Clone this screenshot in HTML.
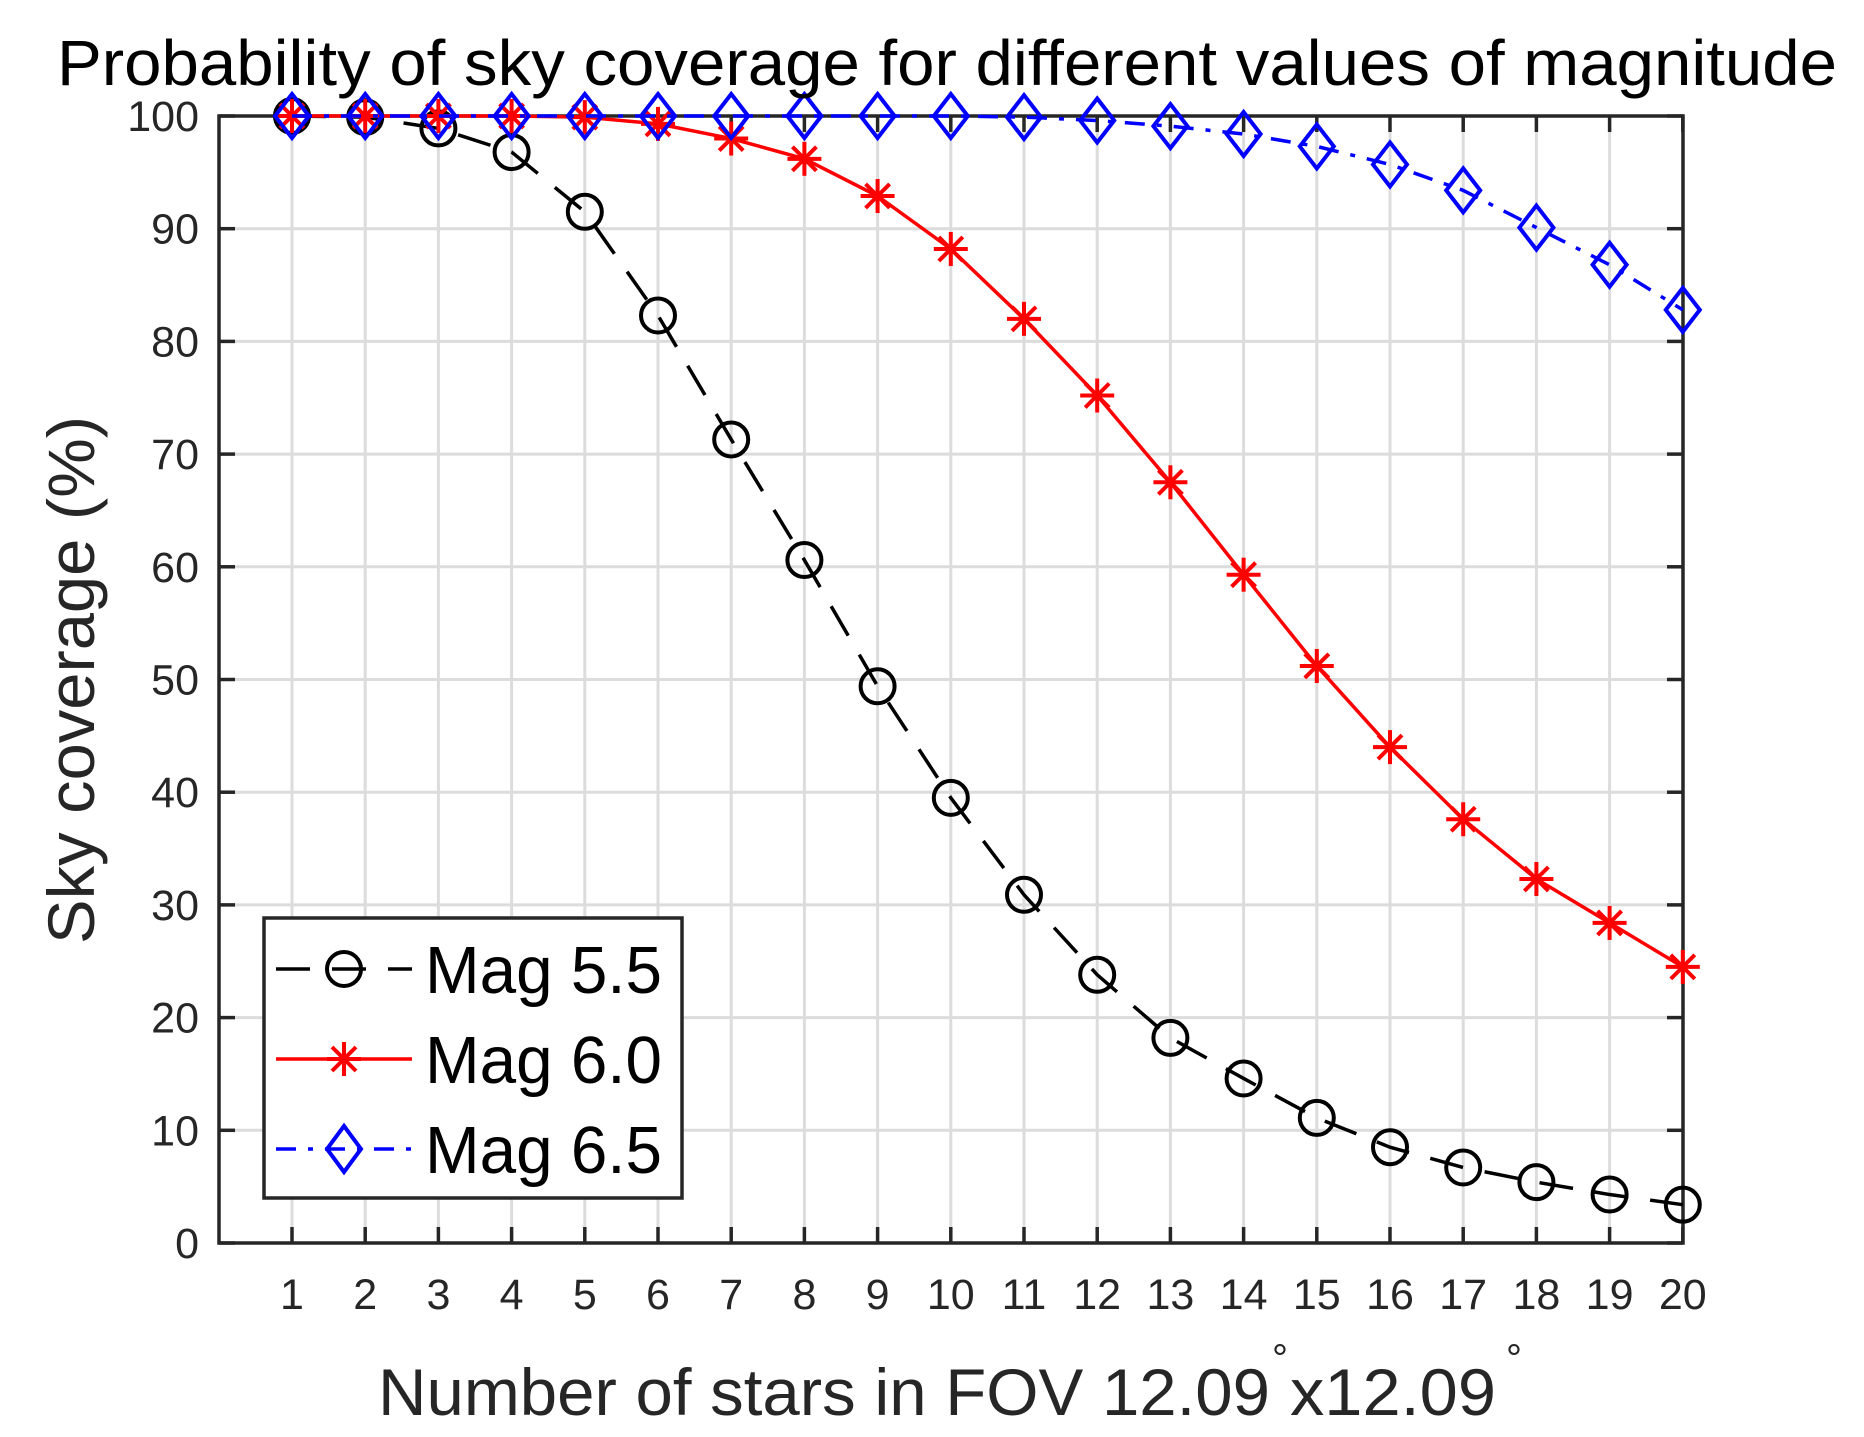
<!DOCTYPE html>
<html><head><meta charset="utf-8"><style>html,body{margin:0;padding:0;background:#fff}svg{display:block}</style></head>
<body>
<svg xmlns="http://www.w3.org/2000/svg" width="1864" height="1437" viewBox="0 0 1864 1437" font-family="Liberation Sans, Arial, sans-serif">
<rect width="1864" height="1437" fill="#fff"/>
<g id="grid" stroke="#dcdcdc" stroke-width="3"></g>
<g id="ticks" stroke="#262626" stroke-width="3.5"></g>
<rect x="219" y="116" width="1464" height="1127" fill="none" stroke="#262626" stroke-width="3.5"/>
<g id="labels" fill="#262626" font-size="43"></g>
<g id="series"></g>
<text x="57" y="85" font-size="64" fill="#000" textLength="1780" lengthAdjust="spacingAndGlyphs">Probability of sky coverage for different values of magnitude</text>
<text x="378" y="1415" font-size="66" fill="#262626" textLength="892" lengthAdjust="spacingAndGlyphs">Number of stars in FOV 12.09</text>
<text x="1290" y="1415" font-size="66" fill="#262626" textLength="206" lengthAdjust="spacingAndGlyphs">x12.09</text>
<text x="1272" y="1372" font-size="40" fill="#262626">°</text>
<text x="1506" y="1372" font-size="40" fill="#262626">°</text>
<text transform="translate(94,944) rotate(-90)" font-size="66" fill="#262626" textLength="528" lengthAdjust="spacingAndGlyphs">Sky coverage (%)</text>
<g>
<rect x="264" y="918" width="418" height="280" fill="#fff" stroke="#262626" stroke-width="3.5"/>
<line x1="276" y1="969" x2="412" y2="969" stroke="#000" stroke-width="3.5" stroke-dasharray="34,22"/>
<circle cx="344" cy="969" r="17" fill="none" stroke="#000" stroke-width="4"/>
<line x1="276" y1="1059" x2="412" y2="1059" stroke="#f00" stroke-width="3.5"/>
<g stroke="#f00" stroke-width="4"><line x1="327" y1="1059" x2="361" y2="1059"/><line x1="344" y1="1042" x2="344" y2="1076"/><line x1="332" y1="1047" x2="356" y2="1071"/><line x1="332" y1="1071" x2="356" y2="1047"/></g>
<line x1="276" y1="1149" x2="412" y2="1149" stroke="#00f" stroke-width="3.5" stroke-dasharray="20,12,5,12"/>
<polygon points="344,1126 361,1149 344,1172 327,1149" fill="none" stroke="#00f" stroke-width="4"/>
<text x="425" y="993" font-size="67" fill="#000" textLength="237" lengthAdjust="spacingAndGlyphs">Mag 5.5</text>
<text x="425" y="1083" font-size="67" fill="#000" textLength="237" lengthAdjust="spacingAndGlyphs">Mag 6.0</text>
<text x="425" y="1173" font-size="67" fill="#000" textLength="237" lengthAdjust="spacingAndGlyphs">Mag 6.5</text>
</g>
<script>
(function(){
var NS="http://www.w3.org/2000/svg";
function X(i){return 292+(i-1)*73.2;}
function Y(v){return 116+(100-v)*11.27;}
function el(p,n,a){var e=document.createElementNS(NS,n);for(var k in a)e.setAttribute(k,a[k]);p.appendChild(e);return e;}
var g=document.getElementById('grid'),t=document.getElementById('ticks'),l=document.getElementById('labels');
for(var i=1;i<=20;i++){var x=X(i);el(g,'line',{x1:x,y1:116,x2:x,y2:1243});el(t,'line',{x1:x,y1:1243,x2:x,y2:1227});el(t,'line',{x1:x,y1:116,x2:x,y2:132});
var tx=el(l,'text',{x:x,y:1309,'text-anchor':'middle'});tx.textContent=i;}
for(var v=0;v<=100;v+=10){var y=Y(v);if(v>0&&v<100)el(g,'line',{x1:219,y1:y,x2:1683,y2:y});el(t,'line',{x1:219,y1:y,x2:235,y2:y});el(t,'line',{x1:1683,y1:y,x2:1667,y2:y});
var ty=el(l,'text',{x:199,y:y+15,'text-anchor':'end'});ty.textContent=v;}
var s=document.getElementById('series');
var d1=[100,99.9,98.9,96.8,91.5,82.3,71.3,60.6,49.4,39.5,30.9,23.8,18.2,14.6,11.1,8.5,6.7,5.4,4.3,3.4];
var d2=[100,100,100,100,99.9,99.3,98,96.2,92.9,88.2,82,75.2,67.5,59.3,51.2,44,37.6,32.3,28.4,24.5];
var d3=[100,100,100,100,100,100,100,100,100,100,99.9,99.6,99.1,98.4,97.3,95.7,93.4,90.1,86.8,82.8];
function pts(d){return d.map(function(v,i){return X(i+1)+','+Y(v);}).join(' ');}
el(s,'polyline',{points:pts(d1),fill:'none',stroke:'#000','stroke-width':3.5,'stroke-dasharray':'34,22'});
d1.forEach(function(v,i){el(s,'circle',{cx:X(i+1),cy:Y(v),r:17,fill:'none',stroke:'#000','stroke-width':4});});
el(s,'polyline',{points:pts(d2),fill:'none',stroke:'#f00','stroke-width':3.5});
d2.forEach(function(v,i){var x=X(i+1),y=Y(v),r=17,q=12;
[[x-r,y,x+r,y],[x,y-r,x,y+r],[x-q,y-q,x+q,y+q],[x-q,y+q,x+q,y-q]].forEach(function(a){el(s,'line',{x1:a[0],y1:a[1],x2:a[2],y2:a[3],stroke:'#f00','stroke-width':4});});});
el(s,'polyline',{points:pts(d3),fill:'none',stroke:'#00f','stroke-width':3.5,'stroke-dasharray':'20,12,5,12'});
d3.forEach(function(v,i){var x=X(i+1),y=Y(v);el(s,'polygon',{points:x+','+(y-22)+' '+(x+17)+','+y+' '+x+','+(y+22)+' '+(x-17)+','+y,fill:'none',stroke:'#00f','stroke-width':4});});
})();
</script>
</svg>
</body></html>
